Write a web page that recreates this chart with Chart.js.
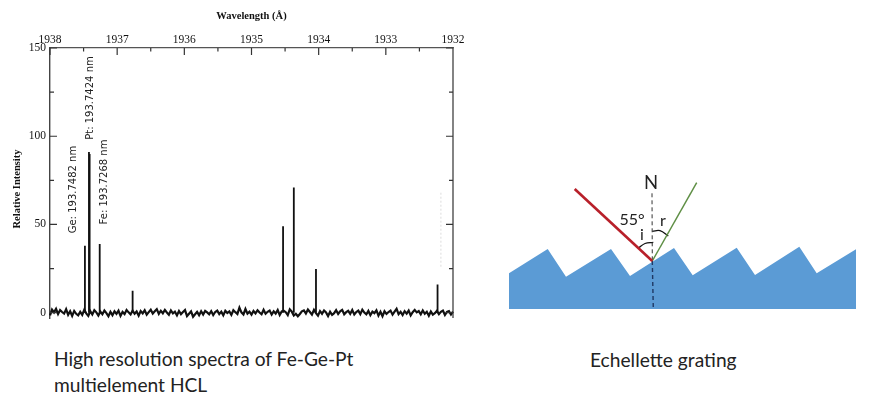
<!DOCTYPE html>
<html>
<head>
<meta charset="utf-8">
<script src="https://cdn.jsdelivr.net/npm/chart.js@4"></script>
<style>
  html, body { margin: 0; background: #fff; overflow: hidden; }
  #page { position: relative; width: 883px; height: 406px; overflow: hidden; }
  canvas { position: absolute; }
  #spectrum { left: 0; top: 0; filter: blur(0.45px); }
  #grating { left: 500px; top: 165px; filter: blur(0.35px); }
  .caption { position: absolute; font: 19.2px Lato, sans-serif; color: #222; white-space: nowrap; }
</style>
</head>
<body>
<div id="page">
  <canvas id="spectrum" width="480" height="330"></canvas>
  <canvas id="grating" width="370" height="150"></canvas>
  <div class="caption" style="left:54px;top:347px">High resolution spectra of Fe-Ge-Pt</div>
  <div class="caption" style="left:54px;top:373px">multielement HCL</div>
  <div class="caption" style="left:590px;top:348px">Echellette grating</div>
</div>
<script>
// spectrum
const xTickValues = [1938, 1937.5, 1937, 1936.5, 1936, 1935.5, 1935, 1934.5, 1934, 1933.5, 1933, 1932.5, 1932];
const xTickLabels = ['1938', '', '1937', '', '1936', '', '1935', '', '1934', '', '1933', '', '1932'];
const yTickValues = [150, 125, 100, 75, 50, 25, 0];
const yTickLabels = ['150', '', '100', '', '50', '', '0'];

const baselineWavelengths = [
  1938.00,1937.97,1937.94,1937.91,1937.88,1937.85,1937.82,1937.79,1937.76,1937.73,
  1937.70,1937.67,1937.64,1937.61,1937.58,1937.55,1937.52,1937.49,1937.46,1937.43,
  1937.40,1937.37,1937.34,1937.31,1937.28,1937.25,1937.22,1937.19,1937.16,1937.13,
  1937.10,1937.07,1937.04,1937.01,1936.98,1936.95,1936.92,1936.89,1936.86,1936.83,
  1936.80,1936.77,1936.74,1936.71,1936.68,1936.65,1936.62,1936.59,1936.56,1936.53,
  1936.50,1936.47,1936.44,1936.41,1936.38,1936.35,1936.32,1936.29,1936.26,1936.23,
  1936.20,1936.17,1936.14,1936.11,1936.08,1936.05,1936.02,1935.99,1935.96,1935.93,
  1935.90,1935.87,1935.84,1935.81,1935.78,1935.75,1935.72,1935.69,1935.66,1935.63,
  1935.60,1935.57,1935.54,1935.51,1935.48,1935.45,1935.42,1935.39,1935.36,1935.33,
  1935.30,1935.27,1935.24,1935.21,1935.18,1935.15,1935.12,1935.09,1935.06,1935.03,
  1935.00,1934.97,1934.94,1934.91,1934.88,1934.85,1934.82,1934.79,1934.76,1934.73,
  1934.70,1934.67,1934.64,1934.61,1934.58,1934.55,1934.52,1934.49,1934.46,1934.43,
  1934.40,1934.37,1934.34,1934.31,1934.28,1934.25,1934.22,1934.19,1934.16,1934.13,
  1934.10,1934.07,1934.04,1934.01,1933.98,1933.95,1933.92,1933.89,1933.86,1933.83,
  1933.80,1933.77,1933.74,1933.71,1933.68,1933.65,1933.62,1933.59,1933.56,1933.53,
  1933.50,1933.47,1933.44,1933.41,1933.38,1933.35,1933.32,1933.29,1933.26,1933.23,
  1933.20,1933.17,1933.14,1933.11,1933.08,1933.05,1933.02,1932.99,1932.96,1932.93,
  1932.90,1932.87,1932.84,1932.81,1932.78,1932.75,1932.72,1932.69,1932.66,1932.63,
  1932.60,1932.57,1932.54,1932.51,1932.48,1932.45,1932.42,1932.39,1932.36,1932.33,
  1932.30,1932.27,1932.24,1932.21,1932.18,1932.15,1932.12,1932.09,1932.06,1932.03,
  1932.00
];
const baselineIntensity = [
  -1.5,1.8,0.2,2.2,-0.8,1.5,0.4,-0.5,2.0,-1.2,
  0.8,-1.8,1.0,-0.6,-1.5,0.5,-1.2,1.6,-0.4,-1.8,
  0.9,-1.0,1.4,0.2,-1.6,0.6,-0.9,1.2,-0.2,-2.0,
  0.5,-1.4,0.8,-0.7,1.1,-1.8,0.4,-0.8,1.5,0.2,
  -1.0,1.2,-0.6,0.7,-1.7,0.9,-0.4,1.4,-1.1,0.3,
  1.7,-0.5,0.8,2.0,-0.7,1.1,-0.3,1.6,0.1,-1.2,
  1.3,-0.4,0.6,-1.5,1.0,-0.8,0.4,1.5,-1.9,-0.6,
  0.7,-2.3,-0.9,0.5,-1.4,0.8,-1.1,1.0,0.2,-0.9,
  0.9,-1.3,0.4,1.2,-0.8,0.6,-1.5,1.1,-0.2,0.7,
  -1.2,1.4,0.3,-0.7,2.9,0.2,-1.0,2.1,-0.5,0.6,
  -1.1,1.0,-0.4,1.4,0.1,-0.9,1.6,-0.6,0.5,1.2,
  -1.0,0.8,-0.5,1.5,-1.3,0.7,1.1,0.3,-1.4,1.9,
  0.6,-1.6,-0.6,-2.0,-0.7,0.8,1.3,-0.5,1.8,0.4,
  -1.1,1.6,-0.2,-1.7,0.9,-0.6,1.3,0.2,-1.9,0.5,
  -1.2,-0.3,1.4,-0.7,0.8,1.6,-0.9,0.3,1.1,-0.6,
  1.5,-1.0,0.4,1.2,-0.8,1.7,0.1,-0.9,1.0,-1.4,
  0.6,-0.3,1.3,-1.6,0.5,-2.0,0.8,-0.7,0.4,1.2,
  -1.1,0.6,2.2,-0.8,0.5,-1.3,0.9,-0.5,1.2,-1.5,
  0.3,1.6,0.2,0.9,-0.9,1.3,-0.6,0.5,-1.7,0.7,
  -1.1,-0.3,1.0,-0.8,0.5,1.2,-1.3,0.4,0.9,-1.0,
  0.6
];

const peakWavelengths = [1937.48, 1937.42, 1937.41, 1937.26, 1936.77, 1934.53, 1934.37, 1934.04, 1932.23];
const peakIntensity = [38, 91, 90, 39, 12.5, 49, 71, 24.7, 16];

const fadedTraceWavelengths = [1932.18, 1932.18];
const fadedTraceIntensity = [68, 26];

const lineLabels = ['Ge: 193.7482 nm', 'Pt: 193.7424 nm', 'Fe: 193.7268 nm'];
const lineLabelWavelengths = [1937.65, 1937.405, 1937.19];
const lineLabelIntensity = [45, 98, 50];

// grating diagram, in the diagram's own units
const profileX = [9, 47.7, 66, 111, 130, 174, 192.7, 236.7, 255, 299.3, 316.7, 356];
const profileY = [35.7, 60, 32.3, 60, 33, 61, 33.7, 61.3, 34, 62.3, 35.7, 59.7];
const incidentX = [74.7, 152.3];
const incidentY = [120, 48];
const reflectedX = [152.3, 196.7];
const reflectedY = [48, 126.3];
const normalUpperX = [152, 152.3];
const normalUpperY = [115.7, 48];
const normalLowerX = [152.3, 153.3];
const normalLowerY = [48, 0];
const arcIX = [138.3, 145, 153.3];
const arcIY = [60.7, 65.5, 66.7];
const arcRX = [152.3, 160, 168.3];
const arcRY = [77.7, 78.3, 73];
const diagramLabels = ['N', '55°', 'i', 'r'];
const diagramLabelX = [151, 132, 142, 163];
const diagramLabelY = [126, 89, 74, 88];
const diagramLabelSizes = [18.5, 16, 16, 16];

const zip = (xs, ys) => xs.map((x, i) => ({ x, y: ys[i] }));

const peakPoints = peakWavelengths.flatMap((x, i) => [{ x, y: 0 }, { x, y: peakIntensity[i] }, { x, y: null }]);

const spectrumFrame = {
  id: 'spectrumFrame',
  afterDraw(chart) {
    const { ctx, chartArea: a, scales: { x, y } } = chart;
    ctx.save();
    ctx.strokeStyle = '#333';
    ctx.lineWidth = 1.2;
    ctx.beginPath();
    ctx.moveTo(a.right, a.top);
    ctx.lineTo(a.right, a.bottom);
    xTickValues.forEach((v, i) => {
      const len = xTickLabels[i] ? 7 : 3.5;
      ctx.moveTo(x.getPixelForValue(v), a.top);
      ctx.lineTo(x.getPixelForValue(v), a.top + len);
    });
    yTickValues.forEach((v, i) => {
      const len = yTickLabels[i] ? 7 : 4;
      ctx.moveTo(a.left, y.getPixelForValue(v));
      ctx.lineTo(a.left + len, y.getPixelForValue(v));
      ctx.moveTo(a.right, y.getPixelForValue(v));
      ctx.lineTo(a.right - len, y.getPixelForValue(v));
    });
    ctx.stroke();

    ctx.fillStyle = '#222';
    ctx.font = '10px "DejaVu Sans"';
    ctx.textAlign = 'left';
    ctx.textBaseline = 'middle';
    lineLabels.forEach((t, i) => {
      ctx.save();
      ctx.translate(x.getPixelForValue(lineLabelWavelengths[i]), y.getPixelForValue(lineLabelIntensity[i]));
      ctx.rotate(-Math.PI / 2);
      ctx.fillText(t, 0, 0);
      ctx.restore();
    });

    // y title sits a little below the middle of the axis in the original
    ctx.fillStyle = '#111';
    ctx.font = 'bold 10.5px "Liberation Serif"';
    ctx.textAlign = 'center';
    ctx.save();
    ctx.translate(17, (a.top + a.bottom) / 2 + 6);
    ctx.rotate(-Math.PI / 2);
    ctx.fillText('Relative Intensity', 0, 0);
    ctx.restore();
    ctx.restore();
  }
};

new Chart(document.getElementById('spectrum'), {
  type: 'line',
  plugins: [spectrumFrame],
  data: {
    datasets: [
      { data: zip(baselineWavelengths, baselineIntensity), borderColor: '#111', borderWidth: 2.2, pointRadius: 0, tension: 0, clip: false },
      { data: peakPoints, borderColor: '#111', borderWidth: 1.8, pointRadius: 0, tension: 0, spanGaps: false },
      { data: zip(fadedTraceWavelengths, fadedTraceIntensity), borderColor: '#dcdcdc', borderWidth: 1, borderDash: [2, 2], pointRadius: 0 }
    ]
  },
  options: {
    responsive: false,
    animation: false,
    layout: { padding: { right: 27, bottom: 12 } },
    plugins: { legend: { display: false }, tooltip: { enabled: false } },
    scales: {
      x: {
        type: 'linear', position: 'top', reverse: true, min: 1932, max: 1938,
        afterFit(s) { s.height = 48; },
        afterBuildTicks(s) { s.ticks = xTickValues.map(value => ({ value })); },
        grid: { display: false, drawTicks: false },
        border: { display: true, color: '#555', width: 1.2 },
        title: { display: true, text: 'Wavelength (Å)', color: '#111', font: { family: 'Liberation Serif', size: 10.5, weight: 'bold' }, padding: { top: 10, bottom: 0 } },
        ticks: {
          autoSkip: false, maxRotation: 0, padding: 1, color: '#111',
          font: { family: 'Liberation Serif', size: 11.5 },
          callback: (v, i) => xTickLabels[i]
        }
      },
      y: {
        min: -3, max: 150,
        afterFit(s) { s.width = 50; },
        afterBuildTicks(s) { s.ticks = yTickValues.map(value => ({ value })); },
        grid: { display: false, drawTicks: false },
        border: { display: true, color: '#444', width: 1.4 },
        ticks: {
          autoSkip: false, padding: 4, color: '#111',
          font: { family: 'Liberation Serif', size: 11.5 },
          callback: (v, i) => yTickLabels[i]
        }
      }
    }
  }
});

const diagramText = {
  id: 'diagramText',
  afterDraw(chart) {
    const { ctx, scales: { x, y } } = chart;
    ctx.save();
    ctx.fillStyle = '#222';
    ctx.textAlign = 'center';
    ctx.textBaseline = 'middle';
    diagramLabels.forEach((t, i) => {
      ctx.font = diagramLabelSizes[i] + 'px Lato';
      ctx.fillText(t, x.getPixelForValue(diagramLabelX[i]), y.getPixelForValue(diagramLabelY[i]));
    });
    ctx.restore();
  }
};

const stroke = (xs, ys, color, width, extra) => Object.assign(
  { data: zip(xs, ys), borderColor: color, borderWidth: width, pointRadius: 0, fill: false, clip: false }, extra);

new Chart(document.getElementById('grating'), {
  type: 'line',
  plugins: [diagramText],
  data: {
    datasets: [
      stroke(incidentX, incidentY, '#b8202a', 2.6),
      stroke(reflectedX, reflectedY, '#5f8f45', 1.5),
      stroke(normalUpperX, normalUpperY, '#333', 1, { borderDash: [4, 3] }),
      stroke(normalLowerX, normalLowerY, '#1f3864', 1.4, { borderDash: [4, 3] }),
      stroke(arcIX, arcIY, '#111', 1.3, { tension: 0.4 }),
      stroke(arcRX, arcRY, '#111', 1.3, { tension: 0.4 }),
      { data: zip(profileX, profileY), borderWidth: 0, backgroundColor: '#5b9bd5', pointRadius: 0, fill: 'origin', tension: 0 }
    ]
  },
  options: {
    responsive: false,
    animation: false,
    layout: { padding: { left: 0, right: 0, top: 0, bottom: 6 } },
    plugins: { legend: { display: false }, tooltip: { enabled: false } },
    scales: {
      x: { type: 'linear', display: false, min: 0, max: 370 },
      y: { display: false, min: 0, max: 144 }
    }
  }
});
</script>
</body>
</html>
